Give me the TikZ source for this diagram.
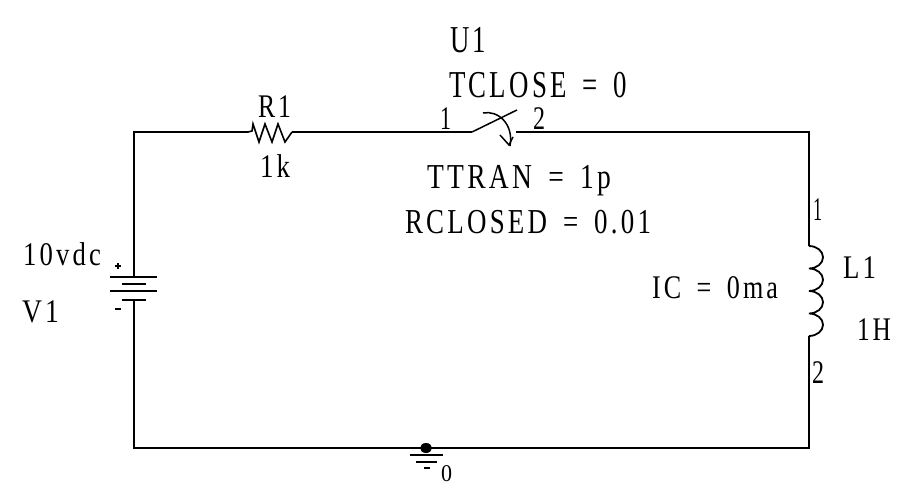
\documentclass[tikz,border=0pt]{standalone}
\usepackage{fontspec}
\usepackage{graphicx}
\newfontfamily\lab[LetterSpace=12,WordSpace=1.6]{Liberation Serif}
\newcommand{\lbl}[6][38]{\node[txt] (#2) at (#3,#4) {\resizebox{#5pt}{\height}{\fontsize{#1}{#1}\lab #6}};}
\tikzset{
  txt/.style={anchor=base west,inner sep=0pt,outer sep=0pt,text=black},
  wire/.style={line width=1.8pt,line cap=butt,line join=miter}
}
\begin{document}
\begin{tikzpicture}[x=1pt,y=-1pt]
\useasboundingbox (0,0) rectangle (901,497);
% labels
\lbl{u1}{450}{53}{36}{U1}
\lbl{tclose}{449}{98}{178}{TCLOSE = 0}
\lbl[33]{r1}{258}{118}{33}{R1}
\lbl[33]{rv}{260}{178}{30}{1k}
\lbl[33]{pa}{440}{130}{11}{1}
\lbl[33]{pb}{533}{130}{12}{2}
\lbl[35]{ttran}{427}{188}{184}{TTRAN = 1p}
\lbl[35]{rclosed}{405}{233}{246}{RCLOSED = 0.01}
\lbl[33]{vval}{23}{265}{78}{10vdc}
\lbl[33]{v1}{22}{322}{37}{V1}
\lbl[33]{l1}{843}{278}{33}{L1}
\lbl[33]{lv}{857}{340}{34}{1H}
\lbl[33]{pc}{813}{220}{9}{1}
\lbl[33]{pd}{812}{383}{12}{2}
\lbl[33]{ic}{652}{298}{126}{IC = 0ma}
\lbl[24]{gn}{441}{481}{11}{0}
% junction points
\coordinate (tl) at (134,132);
\coordinate (tr) at (809,132);
\coordinate (bl) at (134,448);
\coordinate (br) at (809,448);
\coordinate (rs) at (248,132);
\coordinate (re) at (292,132);
\coordinate (sa) at (472,132);
\coordinate (sb) at (516,132);
\coordinate (ba) at (134,277);
\coordinate (bb) at (134,300);
\coordinate (la) at (809,246);
\coordinate (lb) at (809,336);
\coordinate (gd) at (426,448);
% wires
\draw[wire] (ba) -- (tl) -- (rs);
\draw[wire] (re) -- (sa);
\draw[wire] (sb) -- (tr) -- (la);
\draw[wire] (lb) -- (br) -- (bl) -- (bb);
% resistor
\draw[wire,line width=1.6pt] (rs) -- (252,131) -- (253,124) -- (259,142) -- (265,124) -- (272,142) -- (278,124) -- (285,142) -- (292,132);
% switch
\draw[wire,line width=1.5pt] (sa) -- (517,110);
\draw[wire,line width=1.5pt] (483,113) .. controls (498,110) and (514,124) .. (510,146);
\draw[wire,line width=1.5pt] (500,135) -- (509,145) -- (513,137);
% battery
\draw[wire] (110,277) -- (157,277);
\draw[wire] (122,284) -- (146,284);
\draw[wire] (110,291) -- (157,291);
\draw[wire] (122,300) -- (146,300);
\draw[line width=1.4pt] (115,266) -- (121,266) (118,263) -- (118,269);
\draw[line width=1.6pt] (115,309) -- (121,309);
% inductor
\draw[wire] (la) arc[start angle=-90,end angle=90,x radius=14,y radius=11.25]
  arc[start angle=-90,end angle=90,x radius=14,y radius=11.25]
  arc[start angle=-90,end angle=90,x radius=14,y radius=11.25]
  arc[start angle=-90,end angle=90,x radius=14,y radius=11.25];
% ground
\fill (gd) ellipse[x radius=6,y radius=5];
\draw[wire] (410,455) -- (443,455);
\draw[wire] (416,462) -- (437,462);
\draw[wire] (424,468) -- (430,468);
\end{tikzpicture}
\end{document}
